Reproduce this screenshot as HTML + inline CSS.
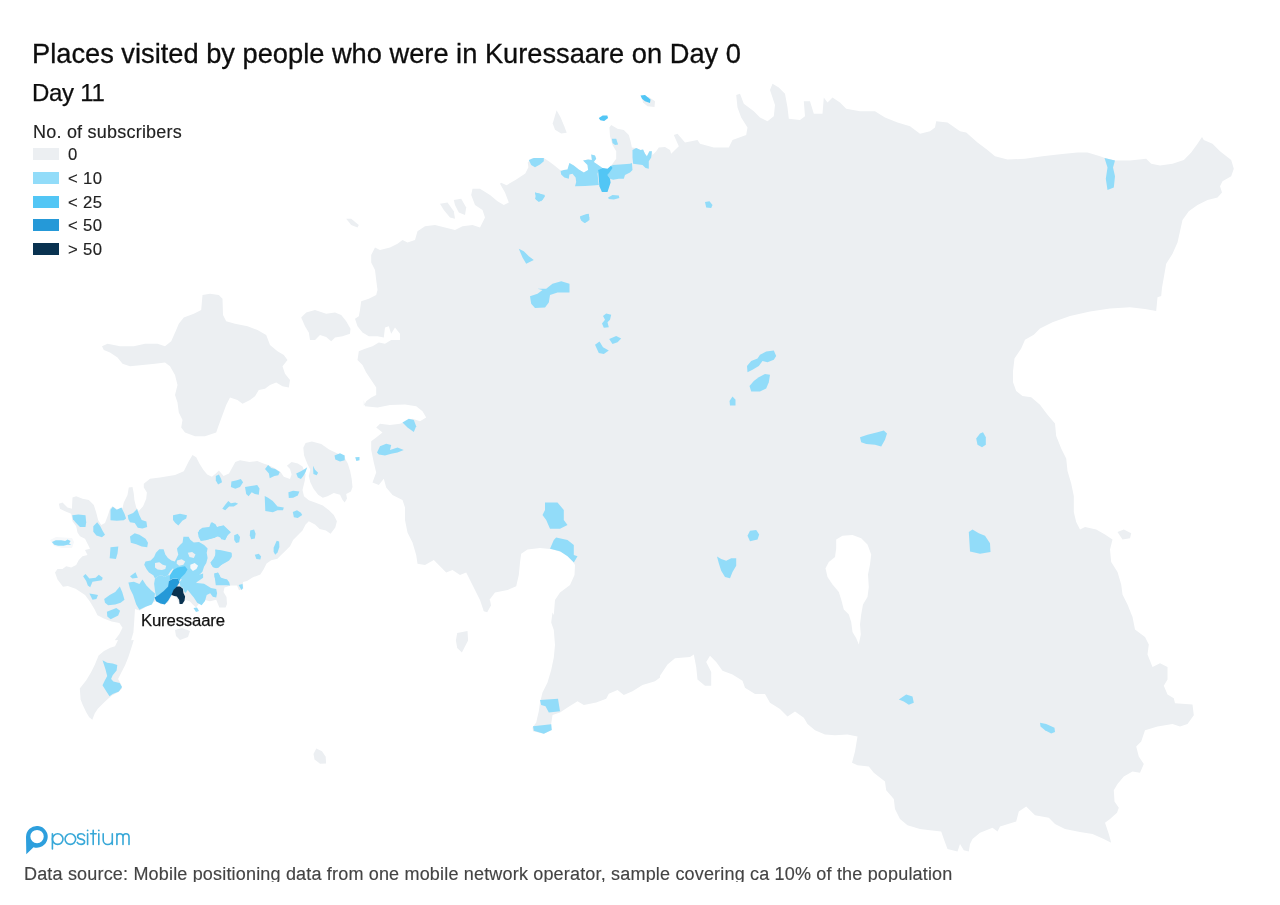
<!DOCTYPE html>
<html><head><meta charset="utf-8">
<style>
html,body{margin:0;padding:0;background:#fff;}
body{width:1280px;height:905px;position:relative;overflow:hidden;font-family:"Liberation Sans",sans-serif;color:#111;}
.t,.ll{will-change:transform;}
.t{position:absolute;white-space:nowrap;line-height:1;}
#title{left:32.4px;top:39.7px;font-size:27.25px;color:#0d0d0d;-webkit-text-stroke:.3px #0d0d0d;}
#day{left:32.4px;top:80.9px;font-size:24px;letter-spacing:-.3px;color:#0d0d0d;-webkit-text-stroke:.25px #0d0d0d;}
#leg{left:33.1px;top:122.5px;font-size:18px;letter-spacing:.22px;color:#222;-webkit-text-stroke:.15px #222;}
.sw{position:absolute;left:33.3px;width:26px;height:12px;}
.ll{position:absolute;left:67.6px;font-size:16.7px;letter-spacing:.35px;margin-top:.75px;color:#222;-webkit-text-stroke:.15px #222;line-height:1;white-space:nowrap;}
#src{left:24.2px;top:865.2px;font-size:18px;letter-spacing:.18px;color:#444;-webkit-text-stroke:.15px #444;}
#clip{position:absolute;left:0;top:882px;width:1280px;height:23px;background:#fff;}
#kur{left:140.7px;top:612.7px;font-size:16.7px;letter-spacing:-.15px;color:#111;-webkit-text-stroke:.25px #111;text-shadow:0 0 2px #fff,0 0 2px #fff,0 0 3px #fff;}
svg{position:absolute;left:0;top:0;}
</style></head><body>
<svg id="map" width="1280" height="905" viewBox="0 0 1280 905">
<path d="M363.8,406 L366.2,401.2 L371.2,397.5 L376.2,395 L376.2,387.5 L371.2,380 L366.2,372.5 L362.5,365 L357.5,360 L358.8,351.2 L365,348.8 L372.5,346.2 L378.8,342.5 L385,343.8 L391.2,340 L400,340 L400,333.8 L395,327.5 L391.2,333.8 L388.8,326.2 L385,327.5 L383.8,337.5 L377.5,336.2 L368.8,336.2 L362.5,332.5 L357.5,326.2 L355,318.8 L358.8,316.2 L360,310 L361.2,301.2 L368.8,298.8 L376.2,295 L377.5,290 L376.2,280 L375,270 L371.2,262.5 L371.2,255 L375,247.5 L380,250 L390,247.5 L397.5,243.8 L402.5,240 L407.5,242.5 L415,240 L417.5,231.2 L425,226.2 L435,225 L445,227.5 L455,230 L462.5,226.2 L472.5,225 L480,227.5 L485,217.5 L482.5,210 L475,205 L471.2,195 L472.5,188.8 L480,188.8 L490,195 L497.5,201.2 L503.8,205 L508.8,202.5 L505,192.5 L500,183.8 L501.1,182.8 L506.6,185.2 L515.9,179.7 L525.3,173.4 L528.4,167.2 L527.7,162.5 L531.6,158.6 L533.8,158.1 L543.8,158.1 L548.8,161.2 L553.8,165 L560,170 L563.8,170 L567.5,169.4 L569.4,163.1 L573.8,165.6 L578.8,169.4 L583.8,172.5 L588.1,170 L587.5,165 L583.1,160.6 L588.1,159.4 L591.9,160 L591.2,154.4 L595,155.6 L596.2,158.8 L593.8,161.9 L597.5,164.4 L602.5,168.1 L607.5,168.8 L611.2,165.6 L613.1,163.1 L616.2,158.8 L616.2,151.2 L612.5,145 L610,136.2 L609.4,127.5 L611.2,125 L617.5,128.8 L623.8,130 L628.8,135 L630.6,141.2 L631.9,147.5 L636.2,148.1 L640.6,150 L643.1,149.4 L645,153.8 L646.9,156.2 L649.4,151.2 L651.9,151.2 L652.5,155 L656.2,151.2 L658.8,147.5 L665,146.9 L670,150 L671.2,153.8 L678.8,146.2 L673.8,135 L677.5,133.8 L685,142.5 L697.5,140 L700,143.8 L713.8,147.5 L728.8,147.5 L732.5,140 L746.2,135 L747.5,127.5 L741.2,117.5 L737.5,107.5 L736.2,95 L740,93.8 L743.8,103.8 L753.8,111.2 L760,117.5 L767.5,121.2 L773.8,116.2 L775,105 L770,90 L772.5,83.8 L778.8,87.5 L785,93.8 L787.5,107.5 L788.8,118.8 L800,120 L805,116.2 L803.8,101.2 L810,101.2 L813.8,113.8 L822.5,113.8 L823.8,97.5 L827.5,102.5 L832.5,97.5 L840,102.5 L846.2,108.8 L860,111.2 L875,111.2 L885,117.5 L897.5,122.5 L910,126.2 L920,133.8 L930,131.2 L935,127.5 L936.2,121.2 L947.5,122.5 L960,131.2 L966.2,132.5 L977.5,142.5 L987.5,150 L995,156.2 L1007.5,159.5 L1025,158.8 L1042.5,156.2 L1060,154.2 L1077.5,152.5 L1087.5,152.5 L1100,156.2 L1105,158 L1115,160.5 L1130,160.5 L1146.2,158.8 L1151.2,163.8 L1160,165.5 L1172.5,163.8 L1183.8,160 L1191.2,152.5 L1197.5,143.8 L1202,137 L1203.8,140 L1212.5,143.8 L1220,151.2 L1231.2,160 L1233.8,168.8 L1231.2,176.2 L1222.5,181.2 L1220,186.2 L1222,192.5 L1217.5,197.5 L1207.5,200 L1197.5,205 L1188.8,211.2 L1182.5,220 L1180,231.2 L1177.5,242.5 L1172.5,253.8 L1166.2,263.8 L1163.8,277.5 L1162,287.5 L1161.2,296 L1157.5,297.2 L1156.2,311 L1145,309 L1130,307.2 L1110,308.5 L1090,311.5 L1070,316 L1052.5,322.2 L1040,328.5 L1033.8,334.8 L1025,339.8 L1021.2,348.5 L1014.5,358.5 L1013,371 L1013,382.2 L1016.2,391 L1022.5,396 L1031.2,397.2 L1040,404.8 L1047.5,414.8 L1055,423.5 L1056.2,436 L1061.2,448.5 L1066.2,458.5 L1067.5,471 L1071.2,483.5 L1073.8,496 L1073.8,512 L1076.2,522 L1080,529.5 L1085,527 L1096.2,529.5 L1105,534.5 L1112.5,539.5 L1110,549.5 L1111.2,562 L1117.5,572 L1121.2,584.5 L1122.5,594.5 L1127.5,604.5 L1132.5,617 L1135,629.5 L1145,637 L1148.8,644.5 L1147.5,654.5 L1152.5,667 L1160,663.2 L1167.5,667 L1167.5,679.5 L1163.8,685.8 L1167.5,694.5 L1173.8,698.2 L1175,703.2 L1192.5,704.5 L1193.8,715.2 L1187.5,724 L1180,726.5 L1172.5,724 L1157.5,726.5 L1145,730.2 L1141.2,741.5 L1136.2,746.5 L1138.8,756.5 L1143.8,764 L1140,772.8 L1132.5,771.5 L1123.8,776.5 L1117.5,784 L1113.8,790.2 L1114.5,801.5 L1118.8,807.8 L1117,812.8 L1110,819 L1105,822.8 L1108.8,834 L1111.2,842.8 L1103.8,839 L1092.5,834 L1080,832 L1065,829 L1055,824 L1048.8,817.8 L1035,815.2 L1031.2,811.5 L1026.2,806.5 L1018.8,811.5 L1016.2,821.5 L1000,826.5 L997.5,831.5 L992.5,827.8 L980,832.8 L972.5,839 L970,844 L968.8,851.5 L963.8,850.2 L960,844 L957.5,851.5 L947.5,849 L943.8,839 L941.2,831.5 L930,830.2 L920,829 L907.5,825.2 L900,819 L895,809 L893.8,799 L886.2,790.2 L885,781.5 L873.8,772.8 L868.8,766.5 L857.5,765.2 L852,762.8 L855,751.5 L857.5,736.5 L847.5,734.5 L835,735.2 L825,734.5 L815,730.2 L807.5,724 L803.8,717.8 L795,711.5 L787.5,716.5 L780,709 L770,702.8 L765,694 L755,694 L745,687.8 L742.5,680.8 L732.5,674.5 L722.5,670.8 L716.2,662 L710,655.8 L706.2,662 L711.2,672 L711.2,685.8 L705,685.8 L697.5,679.5 L696.2,667 L693.8,654.5 L690,657 L675,658.2 L667.5,664.5 L660,675.8 L660,677.5 L655,681.2 L642.5,685 L632.5,691.2 L623.8,695 L617.5,690 L608.8,693.8 L606.2,698.8 L596.2,702.5 L590,703.8 L583.8,705 L577.5,701.2 L567.5,707.5 L560,712.5 L552.5,715 L551.2,723.8 L551.2,730 L543.8,733.8 L533,731.2 L532.5,727.5 L536.2,722.5 L538.8,711.2 L540,702.5 L542.5,692.5 L547.5,682.5 L551.2,670 L553.8,657.5 L555,645 L553.8,630 L551.2,622.5 L552.5,612.5 L553.8,615 L555,600 L560,592.5 L570,585 L574.5,575 L575,565 L571.2,557.5 L562.5,552.5 L552.5,549.2 L540,548 L527.5,549.5 L521.2,553.8 L520,562.5 L518.8,575 L516.2,586.2 L507.5,590 L495,592.5 L491.2,597.5 L487.5,602.5 L483.8,611.2 L480,600 L475,590 L470,580 L466.2,572.5 L460,575 L452.5,570 L446.2,572.5 L440,566.2 L433.8,560 L425,565 L417.5,563.8 L416.2,555 L412.5,542.5 L407.5,532.5 L405,520 L405,507.5 L402.5,500 L392.5,495 L386.2,487.5 L383.8,478.8 L378.8,485 L372.5,482.5 L376.2,472.5 L373.8,462.5 L371.2,450 L371.2,441.2 L376.2,437.5 L382.5,432.5 L376.2,427.5 L380,423.8 L390,425 L400,423.8 L412.5,418.8 L420,421.2 L426.2,417.5 L422.5,411.2 L416.2,406.2 L405,404.5 L390,405 L377.5,407.5 L365,406.2 L363.8,400Z" fill="#eceff2"/>
<path d="M102,346.2 L107.5,343.8 L120,346.2 L133.8,346.2 L145,343.8 L157.5,343.8 L165,346.2 L171.2,341.2 L176.2,330 L178.8,323.8 L183.8,317.5 L193.8,313.8 L201.2,310 L202.5,295 L210,293.8 L218.8,295 L222.5,298.8 L223,315 L226.2,321.2 L235,323.8 L247.5,326.2 L257.5,330 L266.2,335 L270,345 L277.5,351.2 L283.8,355 L287.5,360 L282.5,366.2 L285,373.8 L290,380 L288.8,387.5 L282.5,386.2 L276.2,382.5 L270,385 L265,388.8 L258.8,390 L255,396.2 L250,400 L242.5,403.8 L237.5,400 L230,397.5 L226.2,405 L222.5,415 L218.8,425 L216.2,432.5 L205,436.2 L195,436.2 L185,432.5 L181.2,427.5 L182.5,420 L178.8,412.5 L177.5,402.5 L175,395 L177.5,385 L175,375 L170,366.2 L165,362.5 L155,363.8 L142.5,365 L130,366.2 L122.5,363.8 L117.5,357.5 L110,352.5 L103.8,350Z" fill="#eceff2"/>
<path d="M301.2,317.5 L306.2,312.5 L315,310 L326.2,313.8 L335,312.5 L341.2,315 L346.2,321.2 L350.5,328.8 L350,333.8 L342.5,336.2 L335,337.5 L331.2,341.2 L326.2,337 L320,335 L315,340 L310,340 L308.8,332.5 L305,326.2Z" fill="#eceff2"/>
<path d="M556.6,110.2 L560.5,117.2 L564.4,126.6 L566.7,132.8 L561.2,133.6 L555,129.7 L552.7,123.4Z" fill="#eceff2"/>
<path d="M440,203.8 L447.5,202.5 L453.8,211.2 L455,218.8 L450,217.5 L443.8,210Z" fill="#eceff2"/>
<path d="M453.8,200 L461.2,198.8 L466.2,207.5 L465,215 L458.8,212.5 L455,205Z" fill="#eceff2"/>
<path d="M346.2,218.8 L351.2,218.8 L358.8,225 L357.5,227.5 L351.2,225Z" fill="#eceff2"/>
<path d="M1117.5,532 L1123.8,529.5 L1131.2,533.2 L1130,538.2 L1122.5,539.5Z" fill="#eceff2"/>
<path d="M305.6,443.1 L311.9,441.6 L321.2,443.9 L329.1,449.4 L336.9,453.3 L343.9,456.4 L347.8,463.4 L350.2,471.2 L351.7,479.1 L352.5,486.9 L350.9,491.6 L346.2,493.9 L347,498.6 L344.7,502.5 L342.3,499.4 L340,494.7 L333.8,493.1 L327.5,496.2 L322.8,497.8 L318.1,494.7 L313.4,488.4 L310.3,482.2 L308.8,475.9 L310.3,469.7 L307.2,463.4 L304.1,455.6 L303.3,447.8Z" fill="#eceff2"/>
<path d="M58.8,503.8 L62.5,502.5 L67.5,507.5 L71.9,508.8 L72.5,497.5 L76.2,496.2 L82.5,498.8 L88.8,500 L93.8,505 L96.2,512.5 L98.1,520 L101.2,525 L105,523 L108,515 L110,508.8 L112.5,506.2 L117.5,509.4 L122.5,508.1 L123.8,502.5 L127.5,495 L128.8,487.5 L132.5,486.9 L133.8,493.8 L134.4,500 L136.2,507.5 L138.8,511 L143.1,506.2 L146.2,498.8 L146.9,492.5 L143.8,487.5 L143.8,483.8 L150,478.8 L160,477.5 L175,475 L183.8,471.2 L188.8,461.2 L192.5,455 L196.2,457.2 L199.4,463.4 L203.3,469.7 L207.2,474.4 L211.9,476.7 L215.8,473.6 L218.9,470.5 L223.6,475.9 L229,473.6 L235.3,461.9 L240,460.3 L249.4,461.9 L257.2,461.1 L263.4,463.4 L268.1,465 L274.4,468.1 L280.6,472 L283.8,476.7 L290,479 L291.6,474.4 L290,468.9 L286.9,465.8 L291.6,461.9 L297.8,463.4 L302.5,466.6 L305.6,474.4 L304.8,480.6 L302.5,490 L304,496.2 L308.8,500.2 L315,502.5 L322.8,505.6 L329,510.3 L333.8,515 L336.9,521.2 L335.3,527.5 L330.6,533.8 L325.9,530.6 L319.7,529 L315,524.4 L308.8,521.2 L305.6,524.4 L302.5,530.6 L297.8,535.3 L293.1,540 L290,546.2 L285.3,550.9 L280.6,555.6 L277.5,558.8 L271.2,560.3 L266.6,563.4 L263.4,569.7 L260.3,574.4 L252.5,577.5 L247,581 L243,582 L243.3,589 L239,590.3 L237,585.5 L231,585.5 L224.5,587.5 L223.5,592 L226.5,597 L227,604 L225.6,607.5 L219.4,607.5 L216.2,599.7 L210,601.2 L203.8,599.7 L199,603.6 L196,607.5 L192.8,604.4 L189.7,601.2 L185,599.7 L183.4,603.6 L180.3,604.4 L177.2,599.7 L175.6,595 L171,596.6 L167.8,602.8 L161.6,604.4 L155.3,601.2 L147.5,606 L139.7,610.6 L135,609 L134.2,621.6 L133.4,632.5 L131.1,640.3 L133.8,640 L131.4,647.8 L128.3,657.2 L125.2,665 L121.2,672.8 L118.1,679 L121.2,684.5 L122,688.4 L118.1,692.3 L111.9,695.5 L107.2,699.4 L102.5,704 L97.8,708.8 L94.7,713.4 L92.3,719.7 L89.2,717.3 L86.1,711.9 L83,705.6 L80.6,699.4 L79.8,688.4 L86.1,680.6 L90.8,672.8 L94.7,665 L98.6,655.6 L104,651 L110.3,647.8 L115,646.2 L118.1,640 L114.7,640.3 L119.4,634 L122.5,627.8 L119.4,623.1 L111.6,621.6 L103.8,618.4 L97.5,615.3 L94.4,609 L89.7,601.2 L85,595 L75.6,588.8 L67.8,586 L63,586.7 L57.5,579.6 L55,572.5 L57.5,569 L62.5,569 L66.2,566.2 L71.2,567.5 L76.2,565 L78.8,560 L82.5,556.2 L87.5,555 L85,550 L90,548.8 L88.8,546.2 L85,538.8 L80,536.2 L77.5,532.5 L76.2,526.2 L72.5,521.2 L71.2,513.8 L65,511.2 L60,508.8Z" fill="#eceff2"/>
<path d="M175,630 L182,628 L190,631 L188,637 L180,640 L176,636Z" fill="#eceff2"/>
<path d="M457.2,632.9 L467.5,631 L468.1,640.4 L464.7,646.9 L461.9,652.6 L457.2,647.9 L455.9,640.4Z" fill="#eceff2"/>
<path d="M316.3,748.4 L322,751.2 L325.7,756.8 L326.1,763.4 L320.1,763.8 L314.5,759.6 L313.5,754Z" fill="#eceff2"/>
<path d="M485.4,600.9 L490,600 L491,605.6 L487.2,612.2 L483.8,611.3Z" fill="#eceff2"/>
<path d="M642,97.5 L648.8,97 L655,101.2 L654.5,107 L647.5,106.2 L643,102.5Z" fill="#eceff2"/>
<path d="M50,540 L56,537 L64,537.5 L72,538 L74,542 L72,548 L62,548 L54,546Z" fill="#f6f8fa"/>
<path d="M836.2,539.5 L842.5,535.8 L852.5,535 L861.2,538.2 L867.5,544.5 L871.2,554.5 L870,564.5 L868,574.5 L868.8,587 L867.5,597 L863,604.5 L861.2,614.5 L860,624.5 L860.8,634.5 L858.8,644.5 L856.2,638.2 L852.5,632 L851.2,622 L848.8,614.5 L843.8,609.5 L841.2,599.5 L838.8,592 L832.5,584.5 L827.5,577 L825.5,568.2 L828.8,562 L835,557 L836.2,548.2Z" fill="#ffffff"/>
<path d="M1104.5,158 L1115,160.5 L1113,167.5 L1115,176.2 L1113.8,187.5 L1107.5,190 L1105.8,178.8 L1107.5,167.5Z" fill="#92dcf9"/>
<path d="M976.2,438.5 L980,433.5 L983,432.2 L985.8,437.2 L985.8,444.8 L982,447.2 L977.5,444.8Z" fill="#92dcf9"/>
<path d="M968.8,532 L972.5,529.5 L978.8,533.2 L985,535.8 L990,543.2 L990.5,552 L980,553.8 L970,551.5Z" fill="#92dcf9"/>
<path d="M1040,722.8 L1046.2,724 L1054.5,727.8 L1055,732 L1051.2,733.5 L1045,730.2 L1040.5,726.5Z" fill="#92dcf9"/>
<path d="M898.8,699.5 L906.2,694.5 L912.5,696.5 L913.8,702.8 L908.8,704.8 L903.8,701.5Z" fill="#92dcf9"/>
<path d="M540,700 L558,698.8 L560,711.2 L548.8,712.5 L545.5,706.2 L541.2,705Z" fill="#92dcf9"/>
<path d="M533,726.2 L551.2,724.2 L551.8,730 L543.8,733.8 L533.8,730.8Z" fill="#92dcf9"/>
<path d="M402.5,422.5 L408.8,418.8 L413.8,420 L416.2,426.2 L413.8,432 L407.5,427.5Z" fill="#92dcf9"/>
<path d="M377,452.5 L380,446.2 L386.2,443.8 L391.2,445 L390,450 L397.5,447.5 L403.8,450 L397.5,452.5 L391.2,453.8 L385,455.5 L378.8,454.5Z" fill="#92dcf9"/>
<path d="M545,502.5 L557.5,502.5 L563.8,510 L563.8,520 L567.5,525 L560,528.8 L550,528.8 L546.2,520 L542.5,515 L545,510Z" fill="#92dcf9"/>
<path d="M556.2,537.5 L567.5,540 L573.8,545 L573.8,555 L577.5,556.2 L573.8,562.5 L567.5,556.2 L560,551.2 L550,548.8 L553.8,540Z" fill="#92dcf9"/>
<path d="M535,192.5 L545,195 L541.2,201.2 L536.2,200Z" fill="#92dcf9"/>
<path d="M580,216.2 L588.8,213.8 L589.5,220 L585,223 L581.2,220Z" fill="#92dcf9"/>
<path d="M518.8,248.8 L523.8,251.2 L528.8,256.2 L533.8,260 L526.2,263.8 L522.5,257.5Z" fill="#92dcf9"/>
<path d="M530,296.2 L537.5,293.8 L542.5,290 L537.5,288.8 L546.2,288.8 L552.5,283.8 L561.2,281.2 L569.5,283.8 L569.5,292.5 L557.5,292.5 L550,295 L548.8,302.5 L545,307.5 L535,308 L531.2,303.8Z" fill="#92dcf9"/>
<path d="M747,366 L751.2,361 L757.5,358.5 L760,354.8 L766.2,351.5 L773.8,350.5 L776.2,356 L773.8,359.8 L767.5,362.2 L762.5,361 L758.8,366 L752.5,369.8 L747.5,372.2Z" fill="#92dcf9"/>
<path d="M749.5,386 L753.8,381 L758.8,377.2 L765,374 L770,374.8 L768.8,382.2 L766.2,388.5 L760,391.5 L751.2,391.5Z" fill="#92dcf9"/>
<path d="M729.5,401 L732.5,396.5 L735.5,399.8 L735.5,405.5 L730,405.5Z" fill="#92dcf9"/>
<path d="M860,437.2 L867.5,434.8 L877.5,432.2 L883.8,430.5 L887,433.5 L885,439.8 L881.2,446.5 L875,444.8 L866.2,444 L861.2,442.2Z" fill="#92dcf9"/>
<path d="M747.5,535.8 L750,530.8 L756.2,530 L759.2,534.5 L757.5,539.5 L750,541.2Z" fill="#92dcf9"/>
<path d="M717,556.5 L721.2,559 L726.2,560.8 L731.2,558.2 L736.2,558.2 L736.2,565.8 L732.5,572 L730,578.2 L725,577 L721.2,570.8 L718.8,563.2Z" fill="#92dcf9"/>
<path d="M603,316 L606.2,313.5 L611.2,314.8 L610,319.8 L607.5,322.2 L608.8,327.2 L603.8,327.8 L602,323.5 L605,319.8Z" fill="#92dcf9"/>
<path d="M609.2,339 L616.2,336 L621.2,338.5 L617.5,342.2 L612.5,344Z" fill="#92dcf9"/>
<path d="M595,344.8 L599.5,341.5 L603,347.2 L608.8,350.5 L603.8,354 L598.8,353Z" fill="#92dcf9"/>
<path d="M528.8,160 L533.8,158.1 L543.8,158.1 L543.8,161.2 L540,164.4 L535,167.2 L531.2,165Z" fill="#92dcf9"/>
<path d="M560.6,171.2 L563.8,170 L567.5,169.4 L569.4,163.1 L573.8,165.6 L578.8,169.4 L583.8,172.5 L588.1,170 L587.5,165 L583.1,160.6 L588.1,159.4 L591.9,160 L591.2,154.4 L595,155.6 L596.2,158.8 L593.8,161.9 L597.5,164.4 L602.5,168.1 L598.8,170 L597.5,173.8 L598.8,185 L592.5,185.6 L585,186 L575,186.2 L576.2,181.9 L575.6,177.5 L572.5,173.8 L569.4,174.4 L568.8,178.8 L564.4,177.5 L561.2,174.4Z" fill="#92dcf9"/>
<path d="M607.5,175 L612.5,165 L620,164.4 L630,163.8 L631.9,163.1 L632.5,170 L630,172.5 L625,175 L623.8,178.8 L618.8,178.8 L613.1,179.8 L610,178.8Z" fill="#92dcf9"/>
<path d="M598.1,170 L602.5,168.1 L607.5,168.8 L611.2,165.6 L612.5,168.1 L609.4,172.5 L607.5,175 L610,178.8 L610.6,182.5 L609.4,186.2 L607.5,191.9 L601.9,191.9 L599.4,186.2 L598.8,178.8Z" fill="#52c6f5"/>
<path d="M632.5,150 L636.2,148.1 L640.6,150 L643.1,149.4 L645,153.8 L646.9,156.2 L649.4,151.2 L651.9,151.2 L651.2,157.5 L648.8,161.2 L648.8,168.8 L645.6,168.1 L642.5,165 L638.8,164.4 L633.1,163.8 L632.5,157.5Z" fill="#92dcf9"/>
<path d="M611.9,138.8 L616.2,138.8 L618.1,144.4 L615,145 L612.5,143.1Z" fill="#92dcf9"/>
<path d="M535,192.5 L540,193.8 L545,196.2 L542.5,200 L538.8,201.9 L535,198.8 L536.2,195.6Z" fill="#92dcf9"/>
<path d="M580,217.5 L583.8,215 L588.1,213.8 L589.4,218.1 L587.5,221.2 L584.4,223.1 L581.2,220.6Z" fill="#92dcf9"/>
<path d="M608.1,197.5 L612.5,195 L618.8,195.6 L619.4,198.1 L613.8,199.4 L608.8,199Z" fill="#92dcf9"/>
<path d="M598.8,118 L602.7,115.6 L607.3,115.6 L608.1,118 L604.2,121.1 L600.3,120.3Z" fill="#52c6f5"/>
<path d="M102.5,660.3 L107.2,662.7 L112.7,663.4 L117.3,665 L116.6,670.5 L112.7,675.2 L111.1,679.1 L113.4,681.4 L119.7,683 L122,686.9 L118.9,691.6 L112.7,693.9 L109.5,696.2 L106.4,691.6 L102.5,685.3 L104.8,680.6 L107.2,675.9 L105.6,669.7 L104.1,665Z" fill="#92dcf9"/>
<path d="M72.2,515.3 L78.4,514.5 L85.5,515.3 L86.2,522.3 L85.5,527 L80,527 L76.1,523.1 L73,519.2Z" fill="#92dcf9"/>
<path d="M93.3,526.2 L97.2,522.3 L100.3,526.2 L102.7,530.9 L105,534.8 L101.9,537.2 L96.4,535.6 L93.3,531.7Z" fill="#92dcf9"/>
<path d="M51.9,541.9 L55.8,540.3 L61.2,540.3 L65.2,541.1 L67.5,539.5 L70.6,541.1 L69.1,543.4 L71.4,545 L67.5,544.7 L63.6,545.8 L58.1,545.8 L54.2,544.7Z" fill="#92dcf9"/>
<path d="M110.5,509.8 L112.8,506.7 L116.7,509.8 L121.4,507.5 L124.5,513.8 L126.1,518.4 L123.8,520.3 L116.7,520.8 L110.5,520.3Z" fill="#92dcf9"/>
<path d="M127.7,515.3 L133.1,513 L137,509.1 L139.4,515.3 L141.7,520 L146.4,521.6 L147.2,527 L142.5,528.6 L137.8,527.8 L134.7,523.1 L130,522.3 L128.4,519.2Z" fill="#92dcf9"/>
<path d="M130,536.4 L134.7,533.3 L139.4,534.8 L145.6,538.8 L148,542.7 L147.2,547.3 L141.7,546.6 L136.2,544.2 L130.8,542.7Z" fill="#92dcf9"/>
<path d="M110.5,547.3 L118.3,546.6 L117.5,553.6 L115.9,559.1 L109.7,558.3Z" fill="#92dcf9"/>
<path d="M173,515.3 L180,513.8 L187,515.3 L186.2,518.4 L182.3,520.8 L178.4,525.5 L175.3,523.1 L173,520Z" fill="#92dcf9"/>
<path d="M83.1,576.2 L85.5,573.9 L89.4,578.6 L95.6,577.8 L98.8,574.7 L102.7,577.8 L101.9,580.2 L97.2,580.9 L92.5,581.7 L90.2,587.2 L87.8,585.6 L86.2,580.9Z" fill="#92dcf9"/>
<path d="M89.4,593.4 L94.1,594.2 L98,595 L96.4,598.9 L92.5,599.7Z" fill="#92dcf9"/>
<path d="M104.2,598.9 L109.7,595 L115.2,591.9 L119.8,586.4 L122.2,591.9 L124.5,599.7 L120.6,602.8 L115.2,604.4 L108.1,605.2 L105,602.8Z" fill="#92dcf9"/>
<path d="M128.4,582.5 L133.9,581.7 L139.4,584.1 L142.5,579.4 L146.4,585.6 L151.1,590.3 L155,593.4 L154.2,599.7 L151.9,604.4 L145.6,606.7 L139.4,609.8 L136.2,604.4 L133.1,595 L130,588.8Z" fill="#92dcf9"/>
<path d="M130,576.2 L135.5,572.3 L137.8,577.8 L132.3,578.6Z" fill="#92dcf9"/>
<path d="M199,530.3 L202.4,527.8 L209.3,526.9 L211,522.6 L215.3,523.9 L217.1,526.9 L221.4,526 L225.7,528.6 L230.4,532.1 L227.4,535.5 L224.8,540.3 L221.4,538.1 L217.9,536.4 L212.8,538.1 L205.9,540.3 L200.7,540.7 L199,536.4Z" fill="#92dcf9"/>
<path d="M177,548.4 L180,545 L182.6,542.4 L183.4,536.8 L188.6,536.8 L190.3,539.8 L193.8,542.4 L199,542 L204.1,545 L207.6,548.4 L206.7,552.8 L207.6,557.9 L206.3,563.1 L204.1,566.6 L202.4,571.7 L199,575.2 L195.5,576.9 L192.1,580.3 L189.5,583.8 L186.9,585.5 L183.4,582.9 L181.7,579.5 L178.3,576 L174.8,573.4 L173.1,568.3 L170.5,570.9 L167.9,575.2 L164.5,576.9 L161.9,575.2 L158.4,576 L155,578.6 L153.3,575.2 L149,572.6 L146.4,569.1 L144.2,564.8 L145.5,561.4 L150.7,560.5 L154.1,557.1 L155.9,552.8 L159.3,549.3 L163.6,549.3 L165.3,554.5 L167.9,557.9 L171.4,560.5 L174.8,561.4 L176.6,557.9 L178.3,554.5 L177.4,551Z" fill="#92dcf9"/>
<path d="M155,563.1 L159.3,562.2 L162.8,564.8 L166.2,565.7 L165.3,569.1 L161.9,570 L157.6,569.6 L155,567.4Z" fill="#eceff2"/>
<path d="M190.3,564.8 L194.7,563.1 L198.1,565.7 L196.4,569.1 L192.9,570.9 L190.3,568.3Z" fill="#f4f8fb"/>
<path d="M177,560.5 L181.7,559.2 L185.2,561.4 L183.4,564.8 L179.1,565.7 L176.6,563.5Z" fill="#eceff2"/>
<path d="M187.8,552.8 L192.1,551.9 L195.5,554.5 L193.8,557.9 L189.5,557.1Z" fill="#eceff2"/>
<path d="M216.2,549.7 L221.4,551 L226.6,552.8 L231.7,553.2 L231.7,557.1 L229.1,560.5 L224.8,563.1 L219.7,565.7 L216.2,568.3 L212.8,567 L211,564 L212.8,560.5 L215.3,557.9 L215.3,553.6Z" fill="#92dcf9"/>
<path d="M214.5,573.4 L217.9,572.6 L219.7,575.2 L221.4,579.5 L226.6,579.5 L229.1,582.1 L230,585.5 L224.8,584.7 L219.7,583.8 L216.2,580.3 L214.5,576.9Z" fill="#92dcf9"/>
<path d="M190.3,583.8 L197.2,582.9 L204.1,583.8 L211,588.1 L216.2,589 L217.1,593.3 L216.2,597.6 L212.8,596.7 L210.2,593.3 L206.7,595 L205,601 L201.6,605.3 L197.2,602.8 L193.8,597.6 L190.3,593.3 L186.9,589Z" fill="#92dcf9"/>
<path d="M155,578.6 L158.4,576 L161.9,575.2 L164.5,576.9 L167.9,575.2 L170.5,575.2 L169.2,580.3 L169.2,585.5 L166.2,589 L161.9,593.3 L155.9,596.7 L155,590.7 L154.1,583.8Z" fill="#92dcf9"/>
<path d="M169.4,580.6 L170,575 L173.1,570 L177.5,567.5 L185,566.2 L187.5,569.4 L185,573.8 L181.2,577.5 L179.4,581.2 L177.5,578.8 L172.5,578.8Z" fill="#52c6f5"/>
<path d="M154.5,597.5 L158.3,595.3 L163.7,590.9 L168.1,586.6 L169,581.1 L172.5,578.9 L178,578.9 L179.6,582.2 L176.9,586.6 L173.6,590.9 L171.4,595.3 L168.1,600.8 L164.8,604.6 L160.5,603.5 L156.1,601.3Z" fill="#2599d8"/>
<path d="M171.4,594.8 L173.6,589.8 L176.9,586.6 L180.2,586.6 L182.9,588.7 L183.4,593.1 L185.1,596.4 L184.5,600.8 L182.3,604.1 L179.6,604.1 L179.1,599.7 L176.9,596.4 L174.1,595.9Z" fill="#093250"/>
<path d="M179.6,582.2 L187.8,571.2 L196.6,575.6 L203.1,573.4 L203.1,577.8 L196.6,582.2 L195.5,586.6 L190,586.6 L185.6,593.1 L183.7,590.9 L183.1,587.9 L180.4,586.2Z" fill="#92dcf9"/>
<path d="M215.8,475.9 L218.9,474.4 L221.2,479.1 L222,482.2 L218.1,484.5 L215.8,480.6Z" fill="#92dcf9"/>
<path d="M231.4,481.4 L236.9,480.3 L240.8,479.1 L243.1,482.2 L240,486.9 L235.3,488.8 L230.9,486.9Z" fill="#92dcf9"/>
<path d="M245,486.9 L250.9,486.1 L257.2,485 L259.5,488.4 L258.8,494.7 L254.8,493.9 L251.7,492.3 L248.6,496.2 L246.2,493.9Z" fill="#92dcf9"/>
<path d="M265,468.9 L268.1,465 L271.2,468.1 L275.2,468.9 L279.8,472 L278.3,475.2 L274.4,475.9 L269.7,478.3 L268.9,473.6Z" fill="#92dcf9"/>
<path d="M296.2,473.6 L300.9,471.2 L304.8,468.9 L307.2,467.3 L305.6,472 L303.3,475.9 L300.9,479.1 L297.8,477.5Z" fill="#92dcf9"/>
<path d="M313,465.8 L315,469.7 L318.1,472.8 L316.6,475.2 L313.4,474.1Z" fill="#92dcf9"/>
<path d="M334.5,455.6 L340,453.3 L344.7,455.6 L344.7,460.3 L340,461.6 L335.3,459.5Z" fill="#92dcf9"/>
<path d="M355.2,457.2 L359.5,456.9 L359.5,460.3 L356.4,461.1Z" fill="#92dcf9"/>
<path d="M288.4,492.3 L293.1,490.8 L299.4,491.6 L297.8,495.5 L293.1,497.8 L288.8,498.1Z" fill="#92dcf9"/>
<path d="M264.7,495.9 L268.1,497.8 L272.8,500.9 L277.5,506.4 L283.8,507.5 L283,510.3 L277.5,510.3 L272.8,512.2 L265.3,511.1Z" fill="#92dcf9"/>
<path d="M292.8,511.9 L297,510.3 L300.9,512.7 L302.2,515 L297.8,518.1 L293.9,517.3Z" fill="#92dcf9"/>
<path d="M222.3,508.8 L225.2,504.8 L228.3,500.9 L230.9,503.3 L235.3,502.5 L238.1,503.8 L233.8,506.4 L229.1,506.4 L225.2,510.3Z" fill="#92dcf9"/>
<path d="M250.2,530.6 L254.1,529.4 L255.6,533.8 L254.8,538.4 L251.2,539.2 L249.8,535.3Z" fill="#92dcf9"/>
<path d="M234.2,535.3 L237.7,533.8 L240,536.9 L239.2,542.3 L236.1,543.1 L234.2,540Z" fill="#92dcf9"/>
<path d="M273.6,547.8 L276.7,540.8 L279.1,541.6 L279.4,547 L277.5,552.5 L275.2,554.8 L273.6,551.7Z" fill="#92dcf9"/>
<path d="M254.8,554.8 L258.8,553.8 L261.1,556.4 L260.3,559.5 L256.4,559.1Z" fill="#92dcf9"/>
<path d="M197.8,532.2 L202.5,528.3 L210.3,527.5 L211.9,522 L215,524.4 L216.6,529.1 L218.1,533.8 L215,537.7 L208.8,539.2 L200.9,540.8 L198.6,536.9Z" fill="#92dcf9"/>
<path d="M218.1,526.7 L223.6,525.2 L227.5,529.1 L230.9,532.2 L227.5,535.3 L225.2,540 L221.2,539.2 L218.9,533.8Z" fill="#92dcf9"/>
<path d="M215,549.4 L221.2,550.2 L231.4,552.5 L231.4,556.4 L227.5,561.1 L222.8,563.4 L218.1,568.1 L213.4,567.3 L210.3,562.7 L213.4,558.8 L215.8,554.1Z" fill="#92dcf9"/>
<path d="M214.2,573.6 L218.1,572.8 L220.5,577.5 L227.5,579.8 L228.3,585.3 L215.8,585.3Z" fill="#92dcf9"/>
<path d="M640.5,95.5 L645,95 L650.5,99.5 L650,103 L645,101.2 L642,98.8Z" fill="#52c6f5"/>
<path d="M705,202 L709.5,201.2 L712.5,205 L711.2,208 L706.2,207.5Z" fill="#92dcf9"/>
<path d="M238.6,585 L242.5,584 L243,588 L241.5,590 L240,587.5Z" fill="#92dcf9"/>
<path d="M193.5,608 L197,607.5 L199,611 L196,612Z" fill="#92dcf9"/>
<path d="M106.9,611.8 L116.3,608 L120.1,610.8 L118.2,615.5 L110.7,619.3 L107.3,616.5Z" fill="#92dcf9"/>
</svg>
<svg id="logo" width="1280" height="905" viewBox="0 0 1280 905">
<path fill="#2d9fdd" fill-rule="evenodd" d="M26 836.85A10.85 10.85 0 1 1 33.5 847.17L26.3 854.2ZM30.35 836.6a6.7 6.7 0 1 0 13.4 0a6.7 6.7 0 1 0 -13.4 0Z"/>
<g fill="none" stroke="#38a8d8" stroke-width="1.6" stroke-linecap="round" stroke-linejoin="round">
<path d="M52.4 833.8V849"/><circle cx="57.7" cy="839.1" r="5.3"/>
<circle cx="70.35" cy="839.1" r="5.3"/>
<path d="M84.6 835.6C83.8 834.3 82.5 833.8 81 833.8C79 833.8 77.6 834.9 77.6 836.4C77.6 838 79 838.6 81 839.1C83 839.6 84.6 840.2 84.6 841.8C84.6 843.4 83 844.4 81 844.4C79.2 844.4 77.8 843.8 77.2 842.4"/>
<path d="M87.6 833.8V844.4M93.2 830.2V844.4M90.6 833.8H96.2M98.8 833.8V844.4"/>
<path d="M103.2 833.8V839.9A4.55 4.55 0 0 0 112.3 839.9V833.8M112.3 839.9V844.4"/>
<path d="M116.9 833.8V844.4M116.9 836.8A3.05 3.05 0 0 1 123 836.8V844.4M123 836.8A3 3 0 0 1 129 836.8V844.4"/>
</g>
<circle cx="87.6" cy="830.4" r="0.9" fill="#38a8d8"/><circle cx="98.8" cy="830.4" r="0.9" fill="#38a8d8"/>
</svg>
<div class="t" id="title">Places visited by people who were in Kuressaare on Day 0</div>
<div class="t" id="day">Day 11</div>
<div class="t" id="leg">No. of subscribers</div>
<div class="sw" style="top:148.3px;background:#eceff2"></div><div class="ll" style="top:146.56px">0</div>
<div class="sw" style="top:172.0px;background:#92dcf9"></div><div class="ll" style="top:170.26px">&lt; 10</div>
<div class="sw" style="top:195.7px;background:#52c6f5"></div><div class="ll" style="top:193.96px">&lt; 25</div>
<div class="sw" style="top:219.4px;background:#2599d8"></div><div class="ll" style="top:217.66px">&lt; 50</div>
<div class="sw" style="top:243.1px;background:#093250"></div><div class="ll" style="top:241.36px">&gt; 50</div>
<div class="t" id="kur">Kuressaare</div>
<div class="t" id="src">Data source: Mobile positioning data from one mobile network operator, sample covering ca 10% of the population</div>
<div id="clip"></div>
</body></html>
